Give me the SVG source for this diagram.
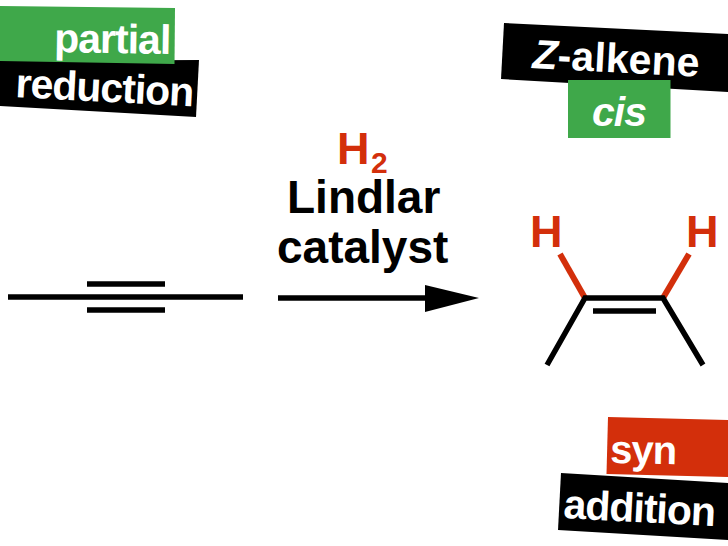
<svg xmlns="http://www.w3.org/2000/svg" width="728" height="546" viewBox="0 0 728 546">
<style>
text{font-family:"Liberation Sans",Arial,sans-serif;font-weight:700}
.w{fill:#fff;font-size:41px;letter-spacing:-1px}
.k{fill:#000;font-size:46px}
.r{fill:#d32f0b}
.bond{stroke:#000;stroke-width:5.500;fill:none}
.rb{stroke:#d32f0b;stroke-width:6;fill:none}
.g{fill:#3fa84a}
</style>
<rect width="728" height="546" fill="#fff"/>
<g id="reduction-label"><polygon points="0,61 199,60 196,117 0,106"/><text class="w" transform="translate(15,97) rotate(3)">reduction</text></g>
<g id="partial-label"><polygon class="g" points="0,6 175,8 174.500,64 0,61"/><text class="w" transform="translate(54,52) rotate(1)">partial</text></g>
<g id="z-alkene-label"><polygon points="504,23 728,34 728,92 501,79"/><text class="w" style="letter-spacing:0.100px" transform="translate(532,68) rotate(3)"><tspan font-style="italic">Z</tspan>-alkene</text></g>
<g id="cis-label"><rect class="g" x="568" y="80" width="102.500" height="58"/><text class="w" x="592" y="126" font-style="italic">cis</text></g>
<g id="syn-label"><polygon class="r" points="608,417 728,420 728,477 606.500,474"/><text class="w" style="font-size:40px" x="610" y="463" transform="rotate(1 610 463)">syn</text></g>
<g id="addition-label"><polygon points="561,473 728,483 728,540 558,530"/><text class="w" transform="translate(563,518) rotate(3)">addition</text></g>
<g id="reagents"><text class="r" x="337" y="164" font-size="45">H</text><text class="r" x="371" y="173" font-size="30">2</text><text class="k" x="287" y="213">Lindlar</text><text class="k" x="277" y="263">catalyst</text></g>
<g id="alkyne"><line class="bond" x1="8" y1="297" x2="243" y2="297"/><line class="bond" x1="87" y1="284" x2="165" y2="284"/><line class="bond" x1="87" y1="310" x2="165" y2="310"/></g>
<g id="alkene"><text class="r" x="530" y="247" font-size="45">H</text><text class="r" x="686" y="247" font-size="45">H</text><line class="rb" x1="560" y1="254" x2="585" y2="298"/><line class="rb" x1="689" y1="254" x2="663" y2="298"/><path class="bond" d="M547,365 L585,298 H663 L703,365"/><line class="bond" x1="593" y1="311" x2="656" y2="311"/></g>
<g id="connectors"><line class="bond" x1="278" y1="298" x2="428" y2="298"/><polygon points="425,285 479,298 425,312"/></g>
</svg>
